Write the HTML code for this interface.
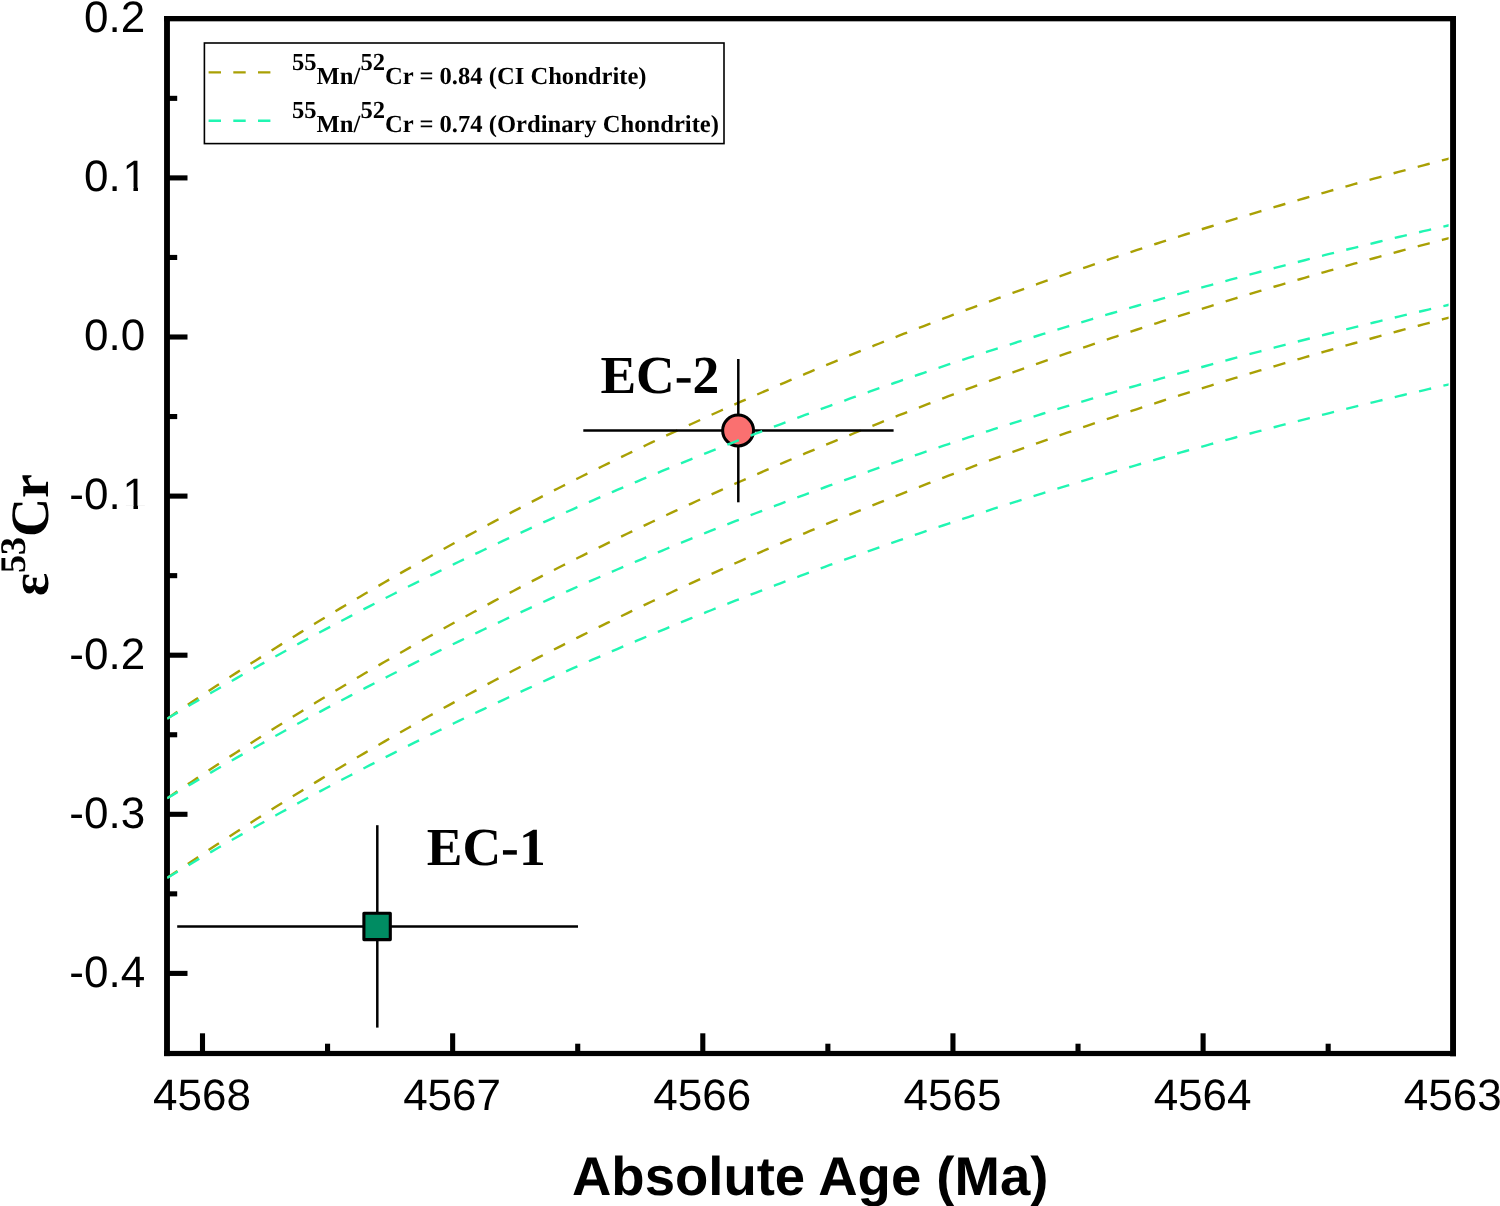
<!DOCTYPE html><html><head><meta charset="utf-8"><title>Mn-Cr evolution</title><style>html,body{margin:0;padding:0;background:#fff}svg{display:block}text{fill:#000;text-rendering:geometricPrecision}.ar{font-family:"Liberation Sans",sans-serif}.tm{font-family:"Liberation Serif",serif;font-weight:bold}</style></head><body>
<svg width="1500" height="1206" viewBox="0 0 1500 1206">
<rect width="1500" height="1206" fill="#fff"/>
<defs><clipPath id="cp"><rect x="167.1" y="18.7" width="1281.5" height="1034.8"/></clipPath></defs>
<g fill="#000"><rect x="164.07" y="16" width="5.86" height="1040.1"/><rect x="1450.1" y="16" width="5.9" height="1040.3"/><rect x="164.07" y="16" width="1291.93" height="5.33"/><rect x="164.07" y="1050.9" width="1291.93" height="5.2"/></g>
<g stroke="#000" stroke-width="5.1">
<line x1="202.50" y1="1053.5" x2="202.50" y2="1033.3"/>
<line x1="327.57" y1="1053.5" x2="327.57" y2="1043.7"/>
<line x1="452.65" y1="1053.5" x2="452.65" y2="1033.3"/>
<line x1="577.73" y1="1053.5" x2="577.73" y2="1043.7"/>
<line x1="702.80" y1="1053.5" x2="702.80" y2="1033.3"/>
<line x1="827.88" y1="1053.5" x2="827.88" y2="1043.7"/>
<line x1="952.95" y1="1053.5" x2="952.95" y2="1033.3"/>
<line x1="1078.03" y1="1053.5" x2="1078.03" y2="1043.7"/>
<line x1="1203.10" y1="1053.5" x2="1203.10" y2="1033.3"/>
<line x1="1328.17" y1="1053.5" x2="1328.17" y2="1043.7"/>
<line x1="167.0" y1="98.35" x2="177.2" y2="98.35"/>
<line x1="167.0" y1="177.90" x2="187.5" y2="177.90"/>
<line x1="167.0" y1="257.45" x2="177.2" y2="257.45"/>
<line x1="167.0" y1="337.00" x2="187.5" y2="337.00"/>
<line x1="167.0" y1="416.55" x2="177.2" y2="416.55"/>
<line x1="167.0" y1="496.10" x2="187.5" y2="496.10"/>
<line x1="167.0" y1="575.65" x2="177.2" y2="575.65"/>
<line x1="167.0" y1="655.20" x2="187.5" y2="655.20"/>
<line x1="167.0" y1="734.75" x2="177.2" y2="734.75"/>
<line x1="167.0" y1="814.30" x2="187.5" y2="814.30"/>
<line x1="167.0" y1="893.85" x2="177.2" y2="893.85"/>
<line x1="167.0" y1="973.40" x2="187.5" y2="973.40"/>
</g>
<g clip-path="url(#cp)" fill="none" stroke="#A9A004" stroke-width="2.4" stroke-dasharray="12.4 12.575">
<path d="M167.10 718.76 L172.05 715.40 L176.99 712.06 L181.94 708.73 L186.88 705.41 L191.83 702.10 L196.78 698.81 L201.72 695.52 L206.67 692.25 L211.61 689.00 L216.56 685.75 L221.51 682.51 L226.45 679.29 L231.40 676.08 L236.34 672.88 L241.29 669.70 L246.24 666.52 L251.18 663.36 L256.13 660.21 L261.07 657.07 L266.02 653.94 L270.97 650.82 L275.91 647.72 L280.86 644.63 L285.80 641.54 L290.75 638.47 L295.70 635.41 L300.64 632.37 L305.59 629.33 L310.53 626.30 L315.48 623.29 L320.42 620.29 L325.37 617.29 L330.32 614.31 L335.26 611.34 L340.21 608.38 L345.15 605.44 L350.10 602.50 L355.05 599.57 L359.99 596.66 L364.94 593.75 L369.88 590.86 L374.83 587.97 L379.78 585.10 L384.72 582.24 L389.67 579.39 L394.61 576.55 L399.56 573.72 L404.51 570.90 L409.45 568.09 L414.40 565.29 L419.34 562.50 L424.29 559.72 L429.24 556.95 L434.18 554.20 L439.13 551.45 L444.07 548.71 L449.02 545.98 L453.97 543.27 L458.91 540.56 L463.86 537.86 L468.80 535.17 L473.75 532.50 L478.70 529.83 L483.64 527.17 L488.59 524.52 L493.53 521.88 L498.48 519.26 L503.43 516.64 L508.37 514.03 L513.32 511.43 L518.26 508.84 L523.21 506.26 L528.16 503.69 L533.10 501.13 L538.05 498.58 L542.99 496.04 L547.94 493.50 L552.88 490.98 L557.83 488.47 L562.78 485.96 L567.72 483.46 L572.67 480.98 L577.61 478.50 L582.56 476.03 L587.51 473.57 L592.45 471.13 L597.40 468.68 L602.34 466.25 L607.29 463.83 L612.24 461.42 L617.18 459.01 L622.13 456.62 L627.07 454.23 L632.02 451.85 L636.97 449.48 L641.91 447.12 L646.86 444.77 L651.80 442.43 L656.75 440.09 L661.70 437.77 L666.64 435.45 L671.59 433.14 L676.53 430.84 L681.48 428.55 L686.43 426.26 L691.37 423.99 L696.32 421.72 L701.26 419.47 L706.21 417.22 L711.16 414.97 L716.10 412.74 L721.05 410.52 L725.99 408.30 L730.94 406.09 L735.89 403.89 L740.83 401.70 L745.78 399.52 L750.72 397.34 L755.67 395.17 L760.62 393.01 L765.56 390.86 L770.51 388.72 L775.45 386.58 L780.40 384.45 L785.35 382.33 L790.29 380.22 L795.24 378.12 L800.18 376.02 L805.13 373.93 L810.08 371.85 L815.02 369.78 L819.97 367.71 L824.91 365.65 L829.86 363.60 L834.80 361.56 L839.75 359.52 L844.70 357.49 L849.64 355.47 L854.59 353.46 L859.53 351.45 L864.48 349.46 L869.43 347.47 L874.37 345.48 L879.32 343.51 L884.26 341.54 L889.21 339.58 L894.16 337.62 L899.10 335.67 L904.05 333.73 L908.99 331.80 L913.94 329.88 L918.89 327.96 L923.83 326.05 L928.78 324.14 L933.72 322.25 L938.67 320.36 L943.62 318.47 L948.56 316.60 L953.51 314.73 L958.45 312.86 L963.40 311.01 L968.35 309.16 L973.29 307.32 L978.24 305.48 L983.18 303.66 L988.13 301.83 L993.08 300.02 L998.02 298.21 L1002.97 296.41 L1007.91 294.62 L1012.86 292.83 L1017.81 291.05 L1022.75 289.27 L1027.70 287.50 L1032.64 285.74 L1037.59 283.99 L1042.54 282.24 L1047.48 280.49 L1052.43 278.76 L1057.37 277.03 L1062.32 275.31 L1067.26 273.59 L1072.21 271.88 L1077.16 270.18 L1082.10 268.48 L1087.05 266.79 L1091.99 265.10 L1096.94 263.42 L1101.89 261.75 L1106.83 260.08 L1111.78 258.42 L1116.72 256.77 L1121.67 255.12 L1126.62 253.48 L1131.56 251.84 L1136.51 250.21 L1141.45 248.59 L1146.40 246.97 L1151.35 245.36 L1156.29 243.75 L1161.24 242.15 L1166.18 240.56 L1171.13 238.97 L1176.08 237.39 L1181.02 235.81 L1185.97 234.24 L1190.91 232.68 L1195.86 231.12 L1200.81 229.56 L1205.75 228.02 L1210.70 226.48 L1215.64 224.94 L1220.59 223.41 L1225.54 221.88 L1230.48 220.36 L1235.43 218.85 L1240.37 217.34 L1245.32 215.84 L1250.27 214.34 L1255.21 212.85 L1260.16 211.37 L1265.10 209.89 L1270.05 208.41 L1275.00 206.94 L1279.94 205.48 L1284.89 204.02 L1289.83 202.57 L1294.78 201.12 L1299.73 199.68 L1304.67 198.24 L1309.62 196.81 L1314.56 195.38 L1319.51 193.96 L1324.45 192.55 L1329.40 191.13 L1334.35 189.73 L1339.29 188.33 L1344.24 186.93 L1349.18 185.54 L1354.13 184.16 L1359.08 182.78 L1364.02 181.41 L1368.97 180.04 L1373.91 178.67 L1378.86 177.31 L1383.81 175.96 L1388.75 174.61 L1393.70 173.26 L1398.64 171.92 L1403.59 170.59 L1408.54 169.26 L1413.48 167.94 L1418.43 166.62 L1423.37 165.30 L1428.32 163.99 L1433.27 162.69 L1438.21 161.39 L1443.16 160.09 L1448.10 158.80 L1453.05 157.51"/>
<path d="M167.10 798.31 L172.05 794.95 L176.99 791.61 L181.94 788.28 L186.88 784.96 L191.83 781.65 L196.78 778.36 L201.72 775.07 L206.67 771.80 L211.61 768.55 L216.56 765.30 L221.51 762.06 L226.45 758.84 L231.40 755.63 L236.34 752.43 L241.29 749.25 L246.24 746.07 L251.18 742.91 L256.13 739.76 L261.07 736.62 L266.02 733.49 L270.97 730.37 L275.91 727.27 L280.86 724.18 L285.80 721.09 L290.75 718.02 L295.70 714.96 L300.64 711.92 L305.59 708.88 L310.53 705.85 L315.48 702.84 L320.42 699.84 L325.37 696.84 L330.32 693.86 L335.26 690.89 L340.21 687.93 L345.15 684.99 L350.10 682.05 L355.05 679.12 L359.99 676.21 L364.94 673.30 L369.88 670.41 L374.83 667.52 L379.78 664.65 L384.72 661.79 L389.67 658.94 L394.61 656.10 L399.56 653.27 L404.51 650.45 L409.45 647.64 L414.40 644.84 L419.34 642.05 L424.29 639.27 L429.24 636.50 L434.18 633.75 L439.13 631.00 L444.07 628.26 L449.02 625.53 L453.97 622.82 L458.91 620.11 L463.86 617.41 L468.80 614.72 L473.75 612.05 L478.70 609.38 L483.64 606.72 L488.59 604.07 L493.53 601.43 L498.48 598.81 L503.43 596.19 L508.37 593.58 L513.32 590.98 L518.26 588.39 L523.21 585.81 L528.16 583.24 L533.10 580.68 L538.05 578.13 L542.99 575.59 L547.94 573.05 L552.88 570.53 L557.83 568.02 L562.78 565.51 L567.72 563.01 L572.67 560.53 L577.61 558.05 L582.56 555.58 L587.51 553.12 L592.45 550.68 L597.40 548.23 L602.34 545.80 L607.29 543.38 L612.24 540.97 L617.18 538.56 L622.13 536.17 L627.07 533.78 L632.02 531.40 L636.97 529.03 L641.91 526.67 L646.86 524.32 L651.80 521.98 L656.75 519.64 L661.70 517.32 L666.64 515.00 L671.59 512.69 L676.53 510.39 L681.48 508.10 L686.43 505.81 L691.37 503.54 L696.32 501.27 L701.26 499.02 L706.21 496.77 L711.16 494.52 L716.10 492.29 L721.05 490.07 L725.99 487.85 L730.94 485.64 L735.89 483.44 L740.83 481.25 L745.78 479.07 L750.72 476.89 L755.67 474.72 L760.62 472.56 L765.56 470.41 L770.51 468.27 L775.45 466.13 L780.40 464.00 L785.35 461.88 L790.29 459.77 L795.24 457.67 L800.18 455.57 L805.13 453.48 L810.08 451.40 L815.02 449.33 L819.97 447.26 L824.91 445.20 L829.86 443.15 L834.80 441.11 L839.75 439.07 L844.70 437.04 L849.64 435.02 L854.59 433.01 L859.53 431.00 L864.48 429.01 L869.43 427.02 L874.37 425.03 L879.32 423.06 L884.26 421.09 L889.21 419.13 L894.16 417.17 L899.10 415.22 L904.05 413.28 L908.99 411.35 L913.94 409.43 L918.89 407.51 L923.83 405.60 L928.78 403.69 L933.72 401.80 L938.67 399.91 L943.62 398.02 L948.56 396.15 L953.51 394.28 L958.45 392.41 L963.40 390.56 L968.35 388.71 L973.29 386.87 L978.24 385.03 L983.18 383.21 L988.13 381.38 L993.08 379.57 L998.02 377.76 L1002.97 375.96 L1007.91 374.17 L1012.86 372.38 L1017.81 370.60 L1022.75 368.82 L1027.70 367.05 L1032.64 365.29 L1037.59 363.54 L1042.54 361.79 L1047.48 360.04 L1052.43 358.31 L1057.37 356.58 L1062.32 354.86 L1067.26 353.14 L1072.21 351.43 L1077.16 349.73 L1082.10 348.03 L1087.05 346.34 L1091.99 344.65 L1096.94 342.97 L1101.89 341.30 L1106.83 339.63 L1111.78 337.97 L1116.72 336.32 L1121.67 334.67 L1126.62 333.03 L1131.56 331.39 L1136.51 329.76 L1141.45 328.14 L1146.40 326.52 L1151.35 324.91 L1156.29 323.30 L1161.24 321.70 L1166.18 320.11 L1171.13 318.52 L1176.08 316.94 L1181.02 315.36 L1185.97 313.79 L1190.91 312.23 L1195.86 310.67 L1200.81 309.11 L1205.75 307.57 L1210.70 306.03 L1215.64 304.49 L1220.59 302.96 L1225.54 301.43 L1230.48 299.91 L1235.43 298.40 L1240.37 296.89 L1245.32 295.39 L1250.27 293.89 L1255.21 292.40 L1260.16 290.92 L1265.10 289.44 L1270.05 287.96 L1275.00 286.49 L1279.94 285.03 L1284.89 283.57 L1289.83 282.12 L1294.78 280.67 L1299.73 279.23 L1304.67 277.79 L1309.62 276.36 L1314.56 274.93 L1319.51 273.51 L1324.45 272.10 L1329.40 270.68 L1334.35 269.28 L1339.29 267.88 L1344.24 266.48 L1349.18 265.09 L1354.13 263.71 L1359.08 262.33 L1364.02 260.96 L1368.97 259.59 L1373.91 258.22 L1378.86 256.86 L1383.81 255.51 L1388.75 254.16 L1393.70 252.81 L1398.64 251.47 L1403.59 250.14 L1408.54 248.81 L1413.48 247.49 L1418.43 246.17 L1423.37 244.85 L1428.32 243.54 L1433.27 242.24 L1438.21 240.94 L1443.16 239.64 L1448.10 238.35 L1453.05 237.06"/>
<path d="M167.10 877.86 L172.05 874.50 L176.99 871.16 L181.94 867.83 L186.88 864.51 L191.83 861.20 L196.78 857.91 L201.72 854.62 L206.67 851.35 L211.61 848.10 L216.56 844.85 L221.51 841.61 L226.45 838.39 L231.40 835.18 L236.34 831.98 L241.29 828.80 L246.24 825.62 L251.18 822.46 L256.13 819.31 L261.07 816.17 L266.02 813.04 L270.97 809.92 L275.91 806.82 L280.86 803.73 L285.80 800.64 L290.75 797.57 L295.70 794.51 L300.64 791.47 L305.59 788.43 L310.53 785.40 L315.48 782.39 L320.42 779.39 L325.37 776.39 L330.32 773.41 L335.26 770.44 L340.21 767.48 L345.15 764.54 L350.10 761.60 L355.05 758.67 L359.99 755.76 L364.94 752.85 L369.88 749.96 L374.83 747.07 L379.78 744.20 L384.72 741.34 L389.67 738.49 L394.61 735.65 L399.56 732.82 L404.51 730.00 L409.45 727.19 L414.40 724.39 L419.34 721.60 L424.29 718.82 L429.24 716.05 L434.18 713.30 L439.13 710.55 L444.07 707.81 L449.02 705.08 L453.97 702.37 L458.91 699.66 L463.86 696.96 L468.80 694.27 L473.75 691.60 L478.70 688.93 L483.64 686.27 L488.59 683.62 L493.53 680.98 L498.48 678.36 L503.43 675.74 L508.37 673.13 L513.32 670.53 L518.26 667.94 L523.21 665.36 L528.16 662.79 L533.10 660.23 L538.05 657.68 L542.99 655.14 L547.94 652.60 L552.88 650.08 L557.83 647.57 L562.78 645.06 L567.72 642.56 L572.67 640.08 L577.61 637.60 L582.56 635.13 L587.51 632.67 L592.45 630.23 L597.40 627.78 L602.34 625.35 L607.29 622.93 L612.24 620.52 L617.18 618.11 L622.13 615.72 L627.07 613.33 L632.02 610.95 L636.97 608.58 L641.91 606.22 L646.86 603.87 L651.80 601.53 L656.75 599.19 L661.70 596.87 L666.64 594.55 L671.59 592.24 L676.53 589.94 L681.48 587.65 L686.43 585.36 L691.37 583.09 L696.32 580.82 L701.26 578.57 L706.21 576.32 L711.16 574.07 L716.10 571.84 L721.05 569.62 L725.99 567.40 L730.94 565.19 L735.89 562.99 L740.83 560.80 L745.78 558.62 L750.72 556.44 L755.67 554.27 L760.62 552.11 L765.56 549.96 L770.51 547.82 L775.45 545.68 L780.40 543.55 L785.35 541.43 L790.29 539.32 L795.24 537.22 L800.18 535.12 L805.13 533.03 L810.08 530.95 L815.02 528.88 L819.97 526.81 L824.91 524.75 L829.86 522.70 L834.80 520.66 L839.75 518.62 L844.70 516.59 L849.64 514.57 L854.59 512.56 L859.53 510.55 L864.48 508.56 L869.43 506.57 L874.37 504.58 L879.32 502.61 L884.26 500.64 L889.21 498.68 L894.16 496.72 L899.10 494.77 L904.05 492.83 L908.99 490.90 L913.94 488.98 L918.89 487.06 L923.83 485.15 L928.78 483.24 L933.72 481.35 L938.67 479.46 L943.62 477.57 L948.56 475.70 L953.51 473.83 L958.45 471.96 L963.40 470.11 L968.35 468.26 L973.29 466.42 L978.24 464.58 L983.18 462.76 L988.13 460.93 L993.08 459.12 L998.02 457.31 L1002.97 455.51 L1007.91 453.72 L1012.86 451.93 L1017.81 450.15 L1022.75 448.37 L1027.70 446.60 L1032.64 444.84 L1037.59 443.09 L1042.54 441.34 L1047.48 439.59 L1052.43 437.86 L1057.37 436.13 L1062.32 434.41 L1067.26 432.69 L1072.21 430.98 L1077.16 429.28 L1082.10 427.58 L1087.05 425.89 L1091.99 424.20 L1096.94 422.52 L1101.89 420.85 L1106.83 419.18 L1111.78 417.52 L1116.72 415.87 L1121.67 414.22 L1126.62 412.58 L1131.56 410.94 L1136.51 409.31 L1141.45 407.69 L1146.40 406.07 L1151.35 404.46 L1156.29 402.85 L1161.24 401.25 L1166.18 399.66 L1171.13 398.07 L1176.08 396.49 L1181.02 394.91 L1185.97 393.34 L1190.91 391.78 L1195.86 390.22 L1200.81 388.66 L1205.75 387.12 L1210.70 385.58 L1215.64 384.04 L1220.59 382.51 L1225.54 380.98 L1230.48 379.46 L1235.43 377.95 L1240.37 376.44 L1245.32 374.94 L1250.27 373.44 L1255.21 371.95 L1260.16 370.47 L1265.10 368.99 L1270.05 367.51 L1275.00 366.04 L1279.94 364.58 L1284.89 363.12 L1289.83 361.67 L1294.78 360.22 L1299.73 358.78 L1304.67 357.34 L1309.62 355.91 L1314.56 354.48 L1319.51 353.06 L1324.45 351.65 L1329.40 350.23 L1334.35 348.83 L1339.29 347.43 L1344.24 346.03 L1349.18 344.64 L1354.13 343.26 L1359.08 341.88 L1364.02 340.51 L1368.97 339.14 L1373.91 337.77 L1378.86 336.41 L1383.81 335.06 L1388.75 333.71 L1393.70 332.36 L1398.64 331.02 L1403.59 329.69 L1408.54 328.36 L1413.48 327.04 L1418.43 325.72 L1423.37 324.40 L1428.32 323.09 L1433.27 321.79 L1438.21 320.49 L1443.16 319.19 L1448.10 317.90 L1453.05 316.61"/>
</g>
<g stroke="#000" stroke-width="2.5"><line x1="177.2" y1="926.4" x2="578.0" y2="926.4"/><line x1="377.3" y1="825.2" x2="377.3" y2="1027.6"/></g>
<rect x="363.90" y="913.20" width="26.4" height="26.4" fill="#008C62" stroke="#000" stroke-width="3.1" stroke-linejoin="round"/>
<g stroke="#000" stroke-width="2.5"><line x1="583.3" y1="430.5" x2="893.6" y2="430.5"/><line x1="738.3" y1="359.0" x2="738.3" y2="502.3"/></g>
<circle cx="738.1" cy="430.5" r="15.45" fill="#FA7070" stroke="#000" stroke-width="3"/>
<g clip-path="url(#cp)" fill="none" stroke="#20F6B2" stroke-width="2.4" stroke-dasharray="12.4 12.575">
<path d="M167.10 718.77 L172.05 715.81 L176.99 712.87 L181.94 709.93 L186.88 707.01 L191.83 704.09 L196.78 701.19 L201.72 698.30 L206.67 695.42 L211.61 692.55 L216.56 689.69 L221.51 686.84 L226.45 684.00 L231.40 681.17 L236.34 678.35 L241.29 675.55 L246.24 672.75 L251.18 669.96 L256.13 667.19 L261.07 664.42 L266.02 661.67 L270.97 658.92 L275.91 656.19 L280.86 653.46 L285.80 650.75 L290.75 648.04 L295.70 645.35 L300.64 642.66 L305.59 639.98 L310.53 637.32 L315.48 634.66 L320.42 632.02 L325.37 629.38 L330.32 626.76 L335.26 624.14 L340.21 621.53 L345.15 618.94 L350.10 616.35 L355.05 613.77 L359.99 611.20 L364.94 608.64 L369.88 606.09 L374.83 603.55 L379.78 601.02 L384.72 598.50 L389.67 595.99 L394.61 593.49 L399.56 590.99 L404.51 588.51 L409.45 586.03 L414.40 583.57 L419.34 581.11 L424.29 578.66 L429.24 576.23 L434.18 573.80 L439.13 571.38 L444.07 568.96 L449.02 566.56 L453.97 564.17 L458.91 561.78 L463.86 559.41 L468.80 557.04 L473.75 554.68 L478.70 552.33 L483.64 549.99 L488.59 547.66 L493.53 545.33 L498.48 543.02 L503.43 540.71 L508.37 538.41 L513.32 536.12 L518.26 533.84 L523.21 531.57 L528.16 529.30 L533.10 527.05 L538.05 524.80 L542.99 522.56 L547.94 520.33 L552.88 518.11 L557.83 515.89 L562.78 513.68 L567.72 511.49 L572.67 509.30 L577.61 507.11 L582.56 504.94 L587.51 502.77 L592.45 500.62 L597.40 498.47 L602.34 496.32 L607.29 494.19 L612.24 492.06 L617.18 489.94 L622.13 487.83 L627.07 485.73 L632.02 483.64 L636.97 481.55 L641.91 479.47 L646.86 477.40 L651.80 475.33 L656.75 473.28 L661.70 471.23 L666.64 469.19 L671.59 467.15 L676.53 465.13 L681.48 463.11 L686.43 461.10 L691.37 459.09 L696.32 457.09 L701.26 455.11 L706.21 453.12 L711.16 451.15 L716.10 449.18 L721.05 447.22 L725.99 445.27 L730.94 443.32 L735.89 441.39 L740.83 439.45 L745.78 437.53 L750.72 435.61 L755.67 433.70 L760.62 431.80 L765.56 429.91 L770.51 428.02 L775.45 426.14 L780.40 424.26 L785.35 422.39 L790.29 420.53 L795.24 418.68 L800.18 416.83 L805.13 414.99 L810.08 413.16 L815.02 411.33 L819.97 409.51 L824.91 407.70 L829.86 405.89 L834.80 404.09 L839.75 402.30 L844.70 400.51 L849.64 398.73 L854.59 396.96 L859.53 395.19 L864.48 393.43 L869.43 391.68 L874.37 389.93 L879.32 388.19 L884.26 386.45 L889.21 384.73 L894.16 383.00 L899.10 381.29 L904.05 379.58 L908.99 377.88 L913.94 376.18 L918.89 374.49 L923.83 372.81 L928.78 371.13 L933.72 369.46 L938.67 367.79 L943.62 366.14 L948.56 364.48 L953.51 362.84 L958.45 361.19 L963.40 359.56 L968.35 357.93 L973.29 356.31 L978.24 354.69 L983.18 353.08 L988.13 351.48 L993.08 349.88 L998.02 348.29 L1002.97 346.70 L1007.91 345.12 L1012.86 343.54 L1017.81 341.97 L1022.75 340.41 L1027.70 338.85 L1032.64 337.30 L1037.59 335.75 L1042.54 334.21 L1047.48 332.68 L1052.43 331.15 L1057.37 329.63 L1062.32 328.11 L1067.26 326.60 L1072.21 325.09 L1077.16 323.59 L1082.10 322.09 L1087.05 320.60 L1091.99 319.12 L1096.94 317.64 L1101.89 316.17 L1106.83 314.70 L1111.78 313.23 L1116.72 311.78 L1121.67 310.33 L1126.62 308.88 L1131.56 307.44 L1136.51 306.00 L1141.45 304.57 L1146.40 303.15 L1151.35 301.73 L1156.29 300.31 L1161.24 298.90 L1166.18 297.50 L1171.13 296.10 L1176.08 294.70 L1181.02 293.32 L1185.97 291.93 L1190.91 290.55 L1195.86 289.18 L1200.81 287.81 L1205.75 286.45 L1210.70 285.09 L1215.64 283.74 L1220.59 282.39 L1225.54 281.05 L1230.48 279.71 L1235.43 278.37 L1240.37 277.05 L1245.32 275.72 L1250.27 274.40 L1255.21 273.09 L1260.16 271.78 L1265.10 270.48 L1270.05 269.18 L1275.00 267.88 L1279.94 266.59 L1284.89 265.31 L1289.83 264.03 L1294.78 262.75 L1299.73 261.48 L1304.67 260.22 L1309.62 258.96 L1314.56 257.70 L1319.51 256.45 L1324.45 255.20 L1329.40 253.96 L1334.35 252.72 L1339.29 251.49 L1344.24 250.26 L1349.18 249.03 L1354.13 247.81 L1359.08 246.60 L1364.02 245.39 L1368.97 244.18 L1373.91 242.98 L1378.86 241.78 L1383.81 240.59 L1388.75 239.40 L1393.70 238.21 L1398.64 237.03 L1403.59 235.86 L1408.54 234.69 L1413.48 233.52 L1418.43 232.36 L1423.37 231.20 L1428.32 230.05 L1433.27 228.90 L1438.21 227.75 L1443.16 226.61 L1448.10 225.47 L1453.05 224.34"/>
<path d="M167.10 798.32 L172.05 795.36 L176.99 792.42 L181.94 789.48 L186.88 786.56 L191.83 783.64 L196.78 780.74 L201.72 777.85 L206.67 774.97 L211.61 772.10 L216.56 769.24 L221.51 766.39 L226.45 763.55 L231.40 760.72 L236.34 757.90 L241.29 755.10 L246.24 752.30 L251.18 749.51 L256.13 746.74 L261.07 743.97 L266.02 741.22 L270.97 738.47 L275.91 735.74 L280.86 733.01 L285.80 730.30 L290.75 727.59 L295.70 724.90 L300.64 722.21 L305.59 719.53 L310.53 716.87 L315.48 714.21 L320.42 711.57 L325.37 708.93 L330.32 706.31 L335.26 703.69 L340.21 701.08 L345.15 698.49 L350.10 695.90 L355.05 693.32 L359.99 690.75 L364.94 688.19 L369.88 685.64 L374.83 683.10 L379.78 680.57 L384.72 678.05 L389.67 675.54 L394.61 673.04 L399.56 670.54 L404.51 668.06 L409.45 665.58 L414.40 663.12 L419.34 660.66 L424.29 658.21 L429.24 655.78 L434.18 653.35 L439.13 650.93 L444.07 648.51 L449.02 646.11 L453.97 643.72 L458.91 641.33 L463.86 638.96 L468.80 636.59 L473.75 634.23 L478.70 631.88 L483.64 629.54 L488.59 627.21 L493.53 624.88 L498.48 622.57 L503.43 620.26 L508.37 617.96 L513.32 615.67 L518.26 613.39 L523.21 611.12 L528.16 608.85 L533.10 606.60 L538.05 604.35 L542.99 602.11 L547.94 599.88 L552.88 597.66 L557.83 595.44 L562.78 593.23 L567.72 591.04 L572.67 588.85 L577.61 586.66 L582.56 584.49 L587.51 582.32 L592.45 580.17 L597.40 578.02 L602.34 575.87 L607.29 573.74 L612.24 571.61 L617.18 569.49 L622.13 567.38 L627.07 565.28 L632.02 563.19 L636.97 561.10 L641.91 559.02 L646.86 556.95 L651.80 554.88 L656.75 552.83 L661.70 550.78 L666.64 548.74 L671.59 546.70 L676.53 544.68 L681.48 542.66 L686.43 540.65 L691.37 538.64 L696.32 536.64 L701.26 534.66 L706.21 532.67 L711.16 530.70 L716.10 528.73 L721.05 526.77 L725.99 524.82 L730.94 522.87 L735.89 520.94 L740.83 519.00 L745.78 517.08 L750.72 515.16 L755.67 513.25 L760.62 511.35 L765.56 509.46 L770.51 507.57 L775.45 505.69 L780.40 503.81 L785.35 501.94 L790.29 500.08 L795.24 498.23 L800.18 496.38 L805.13 494.54 L810.08 492.71 L815.02 490.88 L819.97 489.06 L824.91 487.25 L829.86 485.44 L834.80 483.64 L839.75 481.85 L844.70 480.06 L849.64 478.28 L854.59 476.51 L859.53 474.74 L864.48 472.98 L869.43 471.23 L874.37 469.48 L879.32 467.74 L884.26 466.00 L889.21 464.28 L894.16 462.55 L899.10 460.84 L904.05 459.13 L908.99 457.43 L913.94 455.73 L918.89 454.04 L923.83 452.36 L928.78 450.68 L933.72 449.01 L938.67 447.34 L943.62 445.69 L948.56 444.03 L953.51 442.39 L958.45 440.74 L963.40 439.11 L968.35 437.48 L973.29 435.86 L978.24 434.24 L983.18 432.63 L988.13 431.03 L993.08 429.43 L998.02 427.84 L1002.97 426.25 L1007.91 424.67 L1012.86 423.09 L1017.81 421.52 L1022.75 419.96 L1027.70 418.40 L1032.64 416.85 L1037.59 415.30 L1042.54 413.76 L1047.48 412.23 L1052.43 410.70 L1057.37 409.18 L1062.32 407.66 L1067.26 406.15 L1072.21 404.64 L1077.16 403.14 L1082.10 401.64 L1087.05 400.15 L1091.99 398.67 L1096.94 397.19 L1101.89 395.72 L1106.83 394.25 L1111.78 392.78 L1116.72 391.33 L1121.67 389.88 L1126.62 388.43 L1131.56 386.99 L1136.51 385.55 L1141.45 384.12 L1146.40 382.70 L1151.35 381.28 L1156.29 379.86 L1161.24 378.45 L1166.18 377.05 L1171.13 375.65 L1176.08 374.25 L1181.02 372.87 L1185.97 371.48 L1190.91 370.10 L1195.86 368.73 L1200.81 367.36 L1205.75 366.00 L1210.70 364.64 L1215.64 363.29 L1220.59 361.94 L1225.54 360.60 L1230.48 359.26 L1235.43 357.92 L1240.37 356.60 L1245.32 355.27 L1250.27 353.95 L1255.21 352.64 L1260.16 351.33 L1265.10 350.03 L1270.05 348.73 L1275.00 347.43 L1279.94 346.14 L1284.89 344.86 L1289.83 343.58 L1294.78 342.30 L1299.73 341.03 L1304.67 339.77 L1309.62 338.51 L1314.56 337.25 L1319.51 336.00 L1324.45 334.75 L1329.40 333.51 L1334.35 332.27 L1339.29 331.04 L1344.24 329.81 L1349.18 328.58 L1354.13 327.36 L1359.08 326.15 L1364.02 324.94 L1368.97 323.73 L1373.91 322.53 L1378.86 321.33 L1383.81 320.14 L1388.75 318.95 L1393.70 317.76 L1398.64 316.58 L1403.59 315.41 L1408.54 314.24 L1413.48 313.07 L1418.43 311.91 L1423.37 310.75 L1428.32 309.60 L1433.27 308.45 L1438.21 307.30 L1443.16 306.16 L1448.10 305.02 L1453.05 303.89"/>
<path d="M167.10 877.87 L172.05 874.91 L176.99 871.97 L181.94 869.03 L186.88 866.11 L191.83 863.19 L196.78 860.29 L201.72 857.40 L206.67 854.52 L211.61 851.65 L216.56 848.79 L221.51 845.94 L226.45 843.10 L231.40 840.27 L236.34 837.45 L241.29 834.65 L246.24 831.85 L251.18 829.06 L256.13 826.29 L261.07 823.52 L266.02 820.77 L270.97 818.02 L275.91 815.29 L280.86 812.56 L285.80 809.85 L290.75 807.14 L295.70 804.45 L300.64 801.76 L305.59 799.08 L310.53 796.42 L315.48 793.76 L320.42 791.12 L325.37 788.48 L330.32 785.86 L335.26 783.24 L340.21 780.63 L345.15 778.04 L350.10 775.45 L355.05 772.87 L359.99 770.30 L364.94 767.74 L369.88 765.19 L374.83 762.65 L379.78 760.12 L384.72 757.60 L389.67 755.09 L394.61 752.59 L399.56 750.09 L404.51 747.61 L409.45 745.13 L414.40 742.67 L419.34 740.21 L424.29 737.76 L429.24 735.33 L434.18 732.90 L439.13 730.48 L444.07 728.06 L449.02 725.66 L453.97 723.27 L458.91 720.88 L463.86 718.51 L468.80 716.14 L473.75 713.78 L478.70 711.43 L483.64 709.09 L488.59 706.76 L493.53 704.43 L498.48 702.12 L503.43 699.81 L508.37 697.51 L513.32 695.22 L518.26 692.94 L523.21 690.67 L528.16 688.40 L533.10 686.15 L538.05 683.90 L542.99 681.66 L547.94 679.43 L552.88 677.21 L557.83 674.99 L562.78 672.78 L567.72 670.59 L572.67 668.40 L577.61 666.21 L582.56 664.04 L587.51 661.87 L592.45 659.72 L597.40 657.57 L602.34 655.42 L607.29 653.29 L612.24 651.16 L617.18 649.04 L622.13 646.93 L627.07 644.83 L632.02 642.74 L636.97 640.65 L641.91 638.57 L646.86 636.50 L651.80 634.43 L656.75 632.38 L661.70 630.33 L666.64 628.29 L671.59 626.25 L676.53 624.23 L681.48 622.21 L686.43 620.20 L691.37 618.19 L696.32 616.19 L701.26 614.21 L706.21 612.22 L711.16 610.25 L716.10 608.28 L721.05 606.32 L725.99 604.37 L730.94 602.42 L735.89 600.49 L740.83 598.55 L745.78 596.63 L750.72 594.71 L755.67 592.80 L760.62 590.90 L765.56 589.01 L770.51 587.12 L775.45 585.24 L780.40 583.36 L785.35 581.49 L790.29 579.63 L795.24 577.78 L800.18 575.93 L805.13 574.09 L810.08 572.26 L815.02 570.43 L819.97 568.61 L824.91 566.80 L829.86 564.99 L834.80 563.19 L839.75 561.40 L844.70 559.61 L849.64 557.83 L854.59 556.06 L859.53 554.29 L864.48 552.53 L869.43 550.78 L874.37 549.03 L879.32 547.29 L884.26 545.55 L889.21 543.83 L894.16 542.10 L899.10 540.39 L904.05 538.68 L908.99 536.98 L913.94 535.28 L918.89 533.59 L923.83 531.91 L928.78 530.23 L933.72 528.56 L938.67 526.89 L943.62 525.24 L948.56 523.58 L953.51 521.94 L958.45 520.29 L963.40 518.66 L968.35 517.03 L973.29 515.41 L978.24 513.79 L983.18 512.18 L988.13 510.58 L993.08 508.98 L998.02 507.39 L1002.97 505.80 L1007.91 504.22 L1012.86 502.64 L1017.81 501.07 L1022.75 499.51 L1027.70 497.95 L1032.64 496.40 L1037.59 494.85 L1042.54 493.31 L1047.48 491.78 L1052.43 490.25 L1057.37 488.73 L1062.32 487.21 L1067.26 485.70 L1072.21 484.19 L1077.16 482.69 L1082.10 481.19 L1087.05 479.70 L1091.99 478.22 L1096.94 476.74 L1101.89 475.27 L1106.83 473.80 L1111.78 472.33 L1116.72 470.88 L1121.67 469.43 L1126.62 467.98 L1131.56 466.54 L1136.51 465.10 L1141.45 463.67 L1146.40 462.25 L1151.35 460.83 L1156.29 459.41 L1161.24 458.00 L1166.18 456.60 L1171.13 455.20 L1176.08 453.80 L1181.02 452.42 L1185.97 451.03 L1190.91 449.65 L1195.86 448.28 L1200.81 446.91 L1205.75 445.55 L1210.70 444.19 L1215.64 442.84 L1220.59 441.49 L1225.54 440.15 L1230.48 438.81 L1235.43 437.47 L1240.37 436.15 L1245.32 434.82 L1250.27 433.50 L1255.21 432.19 L1260.16 430.88 L1265.10 429.58 L1270.05 428.28 L1275.00 426.98 L1279.94 425.69 L1284.89 424.41 L1289.83 423.13 L1294.78 421.85 L1299.73 420.58 L1304.67 419.32 L1309.62 418.06 L1314.56 416.80 L1319.51 415.55 L1324.45 414.30 L1329.40 413.06 L1334.35 411.82 L1339.29 410.59 L1344.24 409.36 L1349.18 408.13 L1354.13 406.91 L1359.08 405.70 L1364.02 404.49 L1368.97 403.28 L1373.91 402.08 L1378.86 400.88 L1383.81 399.69 L1388.75 398.50 L1393.70 397.31 L1398.64 396.13 L1403.59 394.96 L1408.54 393.79 L1413.48 392.62 L1418.43 391.46 L1423.37 390.30 L1428.32 389.15 L1433.27 388.00 L1438.21 386.85 L1443.16 385.71 L1448.10 384.57 L1453.05 383.44"/>
</g>
<g class="ar" font-size="44">
<text x="202.0" y="1110.4" text-anchor="middle">4568</text>
<text x="452.1" y="1110.4" text-anchor="middle">4567</text>
<text x="702.3" y="1110.4" text-anchor="middle">4566</text>
<text x="952.5" y="1110.4" text-anchor="middle">4565</text>
<text x="1202.6" y="1110.4" text-anchor="middle">4564</text>
<text x="1452.8" y="1110.4" text-anchor="middle">4563</text>
<text x="145.2" y="32.1" text-anchor="end">0.2</text>
<text x="146.9" y="191.2" text-anchor="end">0.<tspan dx="1.7">1</tspan></text>
<text x="145.2" y="350.3" text-anchor="end">0.0</text>
<text x="146.9" y="509.4" text-anchor="end">-0.<tspan dx="1.7">1</tspan></text>
<text x="145.2" y="668.5" text-anchor="end">-0.2</text>
<text x="145.2" y="827.6" text-anchor="end">-0.3</text>
<text x="145.2" y="986.7" text-anchor="end">-0.4</text>
</g>
<rect x="122" y="187.0" width="11.45" height="6" fill="#fff"/><rect x="137.95" y="187.0" width="10" height="6" fill="#fff"/>
<rect x="122" y="505.2" width="11.45" height="6" fill="#fff"/><rect x="137.95" y="505.2" width="10" height="6" fill="#fff"/>
<text class="ar" font-weight="bold" font-size="54.5" x="810.2" y="1194.5" text-anchor="middle">Absolute Age (Ma)</text>
<g transform="translate(47.5,596) rotate(-90)"><text class="tm" font-size="54" x="0" y="0">ε<tspan dy="-22.3" font-size="36">53</tspan><tspan dy="22.3">Cr</tspan></text></g>
<text class="tm" font-size="53.5" x="600.4" y="393">EC-2</text>
<text class="tm" font-size="53.5" x="426.8" y="864.7">EC-1</text>
<rect x="204.4" y="43" width="519.6" height="100.6" fill="#fff" stroke="#000" stroke-width="1.6"/>
<line x1="208.6" y1="72.4" x2="272" y2="72.4" stroke="#A9A004" stroke-width="2.4" stroke-dasharray="12.4 12.3"/>
<line x1="208.6" y1="120.7" x2="272" y2="120.7" stroke="#20F6B2" stroke-width="2.4" stroke-dasharray="12.4 12.3"/>
<text class="tm" font-size="24.6" x="292" y="70.0">55<tspan x="316.6" dy="13.7">Mn/</tspan><tspan x="360.4" dy="-13.7">52</tspan><tspan x="385" dy="13.7">Cr = 0.84 (CI Chondrite)</tspan></text>
<text class="tm" font-size="24.6" x="292" y="118.3">55<tspan x="316.6" dy="13.7">Mn/</tspan><tspan x="360.4" dy="-13.7">52</tspan><tspan x="385" dy="13.7">Cr = 0.74 (Ordinary Chondrite)</tspan></text>
</svg></body></html>
